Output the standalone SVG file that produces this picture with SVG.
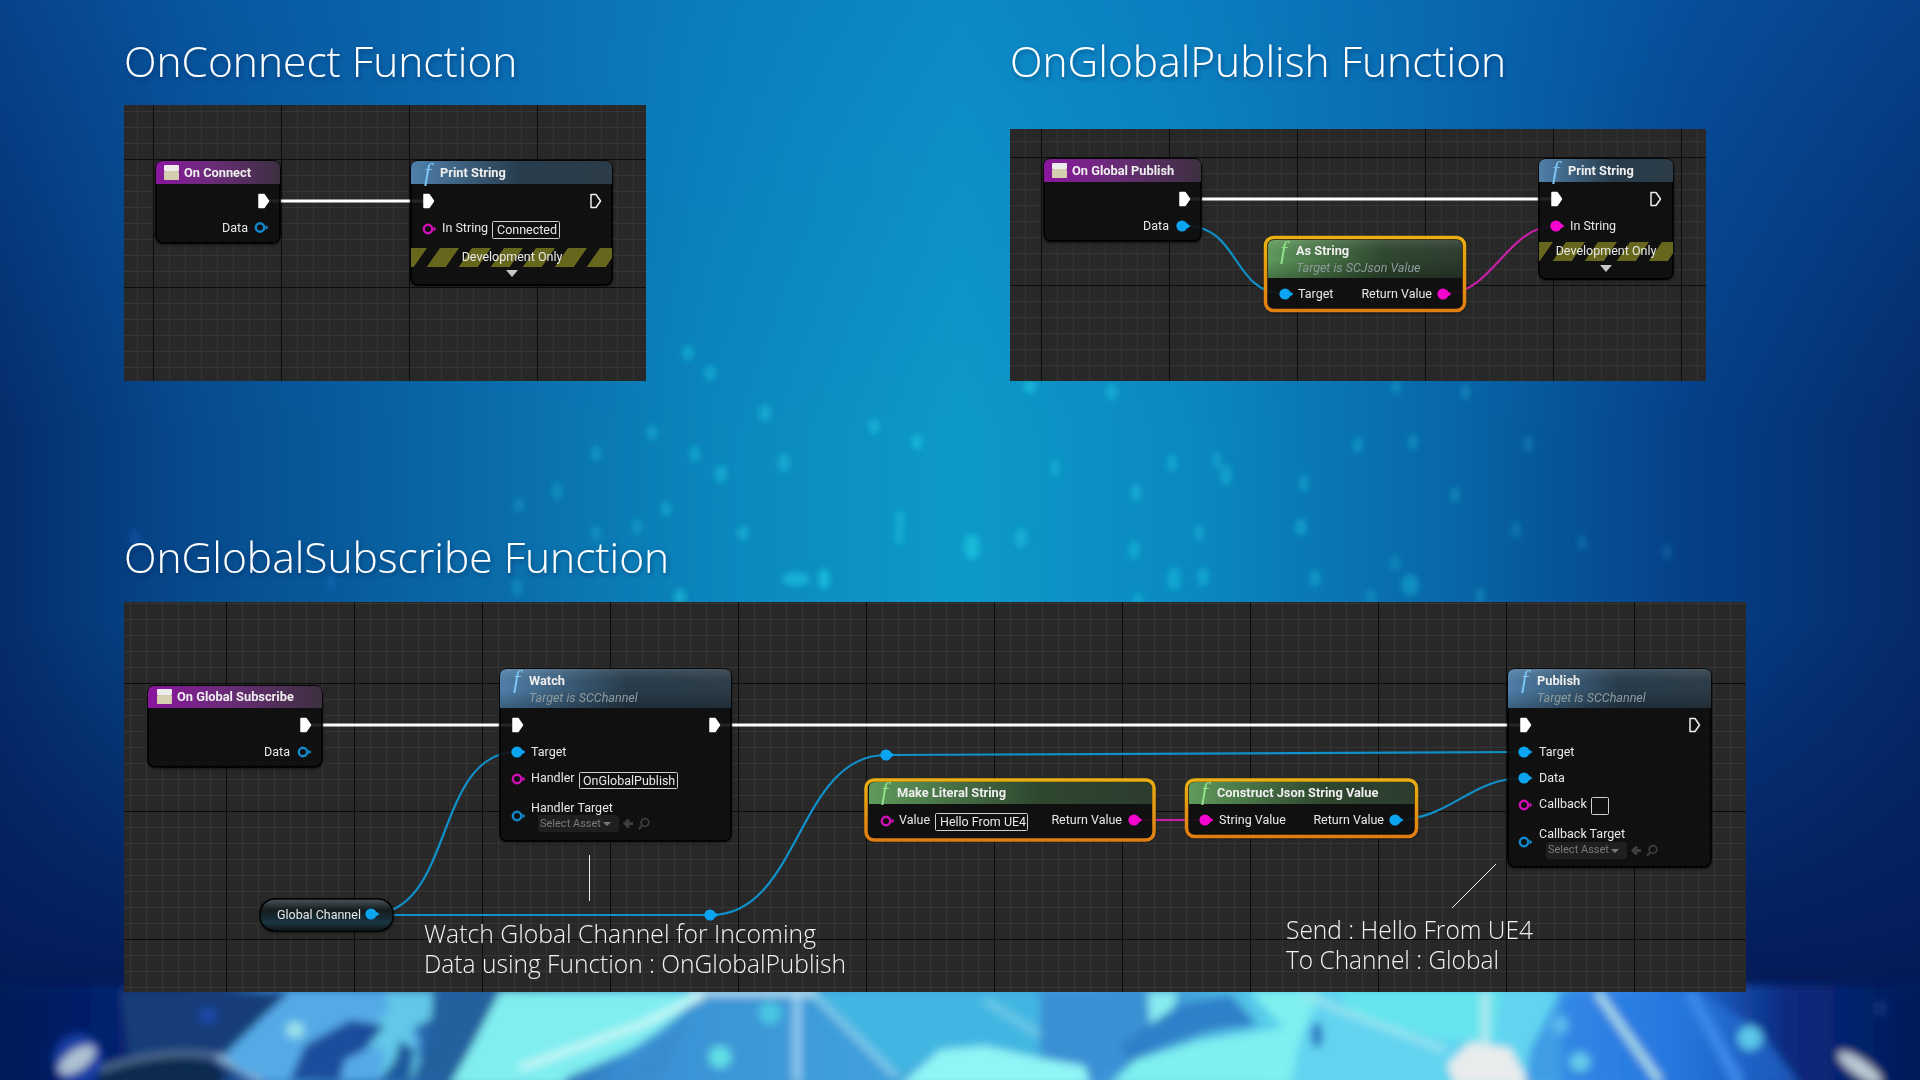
<svg xmlns="http://www.w3.org/2000/svg" width="1920" height="1080" viewBox="0 0 1920 1080">
<style>
.h{font-family:"Open Sans","Noto Sans",sans-serif;font-weight:300;font-size:42.5px;fill:#fff}
.a{font-family:"Open Sans","Noto Sans",sans-serif;font-weight:300;font-size:26.5px;fill:#f2f2f2}
.n{font-family:Roboto,"Liberation Sans",sans-serif;font-size:12.5px;fill:#e8e8e8}
.t{font-family:Roboto,"Liberation Sans",sans-serif;font-size:12.8px;font-weight:700;fill:#eeeeee}
.s{font-family:Roboto,"Liberation Sans",sans-serif;font-size:12.5px;font-style:italic;fill:#8d9c9c}
.g{font-family:Roboto,"Liberation Sans",sans-serif;font-size:11px;fill:#7a7a7a}
.e{text-anchor:end}
.c{text-anchor:middle}
.f{font-family:"Liberation Serif",serif;font-style:italic;font-size:25px}
.fb{fill:#7cc4f4}
.fg{fill:#90e088}
.body{fill:#0b0d0c;fill-opacity:.82;stroke:#050505;stroke-width:1.5;filter:url(#ds)}
.sel{fill:none;stroke-width:3.5;stroke:url(#orange)}
.box{fill:none;stroke:#d0d0d0;stroke-width:1}
.bl{color:#0aa4f0}
.blh{color:#1488cc}
.mg{color:#f505d0}
.mgh{color:#d010b8}
.wb{fill:none;stroke:#1090c8;stroke-width:2.2}
.wm{fill:none;stroke:#c81ea8;stroke-width:2.2}
.wx{fill:none;stroke:#fff;stroke-width:3}
.ln{stroke:#e8e8e8;stroke-width:1;fill:none}
.dot{fill:#1cc4de}
</style>
<defs>
<linearGradient id="bg" x1="0" x2="1" y1="0" y2="0">
<stop offset="0" stop-color="#052c6c"/><stop offset=".1" stop-color="#064a8c"/><stop offset=".25" stop-color="#0a6aa8"/><stop offset=".37" stop-color="#0b86bc"/><stop offset=".5" stop-color="#0d9ac8"/><stop offset=".62" stop-color="#0b88c0"/><stop offset=".75" stop-color="#0868a8"/><stop offset=".88" stop-color="#053f86"/><stop offset="1" stop-color="#052a6a"/>
</linearGradient>
<linearGradient id="bgv" x1="0" x2="0" y1="0" y2="1">
<stop offset="0" stop-color="#0a6ac0" stop-opacity=".35"/><stop offset=".4" stop-color="#0a6ac0" stop-opacity="0"/>
</linearGradient>
<linearGradient id="bgb" x1="0" x2="0" y1="0" y2="1">
<stop offset="0" stop-color="#041a58" stop-opacity="0"/><stop offset="1" stop-color="#041a58"/>
</linearGradient>
<linearGradient id="strip" x1="0" x2="1920" y1="0" y2="0" gradientUnits="userSpaceOnUse">
<stop offset="0" stop-color="#041a58"/><stop offset=".06" stop-color="#06216e"/><stop offset=".115" stop-color="#163a7a"/><stop offset=".14" stop-color="#3a86d0"/><stop offset=".2" stop-color="#2a70b8"/><stop offset=".25" stop-color="#1f5a9c"/><stop offset=".33" stop-color="#3a90d4"/><stop offset=".52" stop-color="#42a8de"/><stop offset=".6" stop-color="#3a90d4"/><stop offset=".67" stop-color="#5cd8ee"/><stop offset=".8" stop-color="#5cd8f0"/><stop offset=".82" stop-color="#4098ea"/><stop offset=".87" stop-color="#2878e0"/><stop offset=".93" stop-color="#082a80"/><stop offset="1" stop-color="#041a58"/>
</linearGradient>
<filter id="b3" x="-10%" y="-10%" width="120%" height="120%"><feGaussianBlur stdDeviation="4"/></filter>
<filter id="b4" x="-60%" y="-60%" width="220%" height="220%"><feGaussianBlur stdDeviation="3.4"/></filter>
<filter id="ds" x="-10%" y="-10%" width="120%" height="125%"><feDropShadow dx="0" dy="1" stdDeviation="1.5" flood-color="#000" flood-opacity=".6"/></filter>
<filter id="ts" x="-5%" y="-20%" width="110%" height="150%"><feDropShadow dx="1" dy="2" stdDeviation="2" flood-color="#002050" flood-opacity=".5"/></filter>
<pattern id="grid" width="128" height="128" patternUnits="userSpaceOnUse">
<rect width="128" height="128" fill="#282828"/>
<path d="M16.5 0V128M32.5 0V128M48.5 0V128M64.5 0V128M80.5 0V128M96.5 0V128M112.5 0V128M0 16.5H128M0 32.5H128M0 48.5H128M0 64.5H128M0 80.5H128M0 96.5H128M0 112.5H128" stroke="#353535" stroke-width="1"/>
<path d="M.5 0V128M0 .5H128" stroke="#0c0c0c" stroke-width="1"/>
</pattern>
<pattern id="haz" width="32" height="19" patternUnits="userSpaceOnUse" patternTransform="skewX(-35)">
<rect width="19" height="19" fill="#66661c"/>
</pattern>
<linearGradient id="orange" x1="0" x2="0" y1="0" y2="1"><stop offset="0" stop-color="#eab012"/><stop offset="1" stop-color="#e07c10"/></linearGradient>
<linearGradient id="hp" x1="0" x2="1" y1="0" y2="0"><stop offset="0" stop-color="#8a169e"/><stop offset=".45" stop-color="#6a2c78"/><stop offset="1" stop-color="#3c3040"/></linearGradient>
<linearGradient id="hb" x1="0" x2="1" y1="0" y2="0"><stop offset="0" stop-color="#4f80aa"/><stop offset=".55" stop-color="#283c4c"/><stop offset="1" stop-color="#2c3c48"/></linearGradient>
<linearGradient id="hg" x1="0" x2="1" y1="0" y2="0"><stop offset="0" stop-color="#5f9a5c"/><stop offset=".6" stop-color="#2e462e"/><stop offset="1" stop-color="#2c3c2e"/></linearGradient>
<linearGradient id="hv" x1="0" x2="0" y1="0" y2="1"><stop offset="0" stop-color="#fff" stop-opacity=".12"/><stop offset=".5" stop-color="#000" stop-opacity="0"/><stop offset="1" stop-color="#000" stop-opacity=".25"/></linearGradient>
<linearGradient id="pill" x1="0" x2="0" y1="0" y2="1"><stop offset="0" stop-color="#48555a"/><stop offset=".35" stop-color="#161c1e"/><stop offset=".75" stop-color="#1a3440"/><stop offset="1" stop-color="#0e1416"/></linearGradient>
<g id="pf"><circle r="5.6" fill="currentColor"/><path d="M5 -2.6L8.5 0L5 2.6Z" fill="currentColor"/></g>
<g id="ph"><circle r="4.2" fill="none" stroke="currentColor" stroke-width="2.4"/><path d="M5.5 -2.4L8.5 0L5.5 2.4Z" fill="currentColor"/></g>
<path id="xf" d="M1 -6.500H6L10.500 0L6 6.500H1Z" fill="#fff" stroke="#fff" stroke-width="1.500" stroke-linejoin="round"/>
<path id="xo" d="M1 -6.500H6L10.500 0L6 6.500H1Z" fill="none" stroke="#eee" stroke-width="1.500" stroke-linejoin="round"/>
<g id="ev"><rect width="15" height="6" rx="1" fill="#ececec"/><rect y="6" width="15" height="9" rx="1" fill="#d6ceb0"/></g>
<g id="sel"><rect width="81" height="17" rx="3" fill="#1f1f1f"/><path d="M65 7L73 7L69 11Z" fill="#777"/><path d="M95 8.500L88 8.500M91 4.500L87 8.500L91 12.500" stroke="#3e3e3e" stroke-width="3" fill="none"/><circle cx="107" cy="7.500" r="3.800" fill="none" stroke="#3e3e3e" stroke-width="1.800"/><path d="M104 10.500L101 14" stroke="#3e3e3e" stroke-width="2"/></g>
</defs>

<g id="background">
<rect width="1920" height="1080" fill="url(#bg)"/>
<rect width="1920" height="1080" fill="url(#bgv)"/>
<rect y="620" width="1920" height="370" fill="url(#bgb)"/>
<g filter="url(#b4)" class="dot">
<ellipse cx="688" cy="353" rx="6" ry="8" opacity=".5"/><ellipse cx="710" cy="373" rx="6" ry="8" opacity=".5"/><ellipse cx="765" cy="413" rx="6" ry="9" opacity=".55"/><ellipse cx="652" cy="433" rx="5" ry="8" opacity=".45"/><ellipse cx="596" cy="453" rx="5" ry="8" opacity=".4"/><ellipse cx="695" cy="454" rx="5" ry="8" opacity=".5"/><ellipse cx="721" cy="474" rx="6" ry="9" opacity=".55"/><ellipse cx="784" cy="463" rx="6" ry="9" opacity=".55"/><ellipse cx="874" cy="426" rx="5" ry="8" opacity=".6"/><ellipse cx="917" cy="442" rx="5" ry="8" opacity=".7"/><ellipse cx="557" cy="491" rx="5" ry="9" opacity=".35"/><ellipse cx="519" cy="505" rx="5" ry="7" opacity=".3"/><ellipse cx="666" cy="509" rx="5" ry="8" opacity=".45"/><ellipse cx="637" cy="527" rx="5" ry="8" opacity=".35"/><ellipse cx="596" cy="533" rx="5" ry="8" opacity=".3"/><ellipse cx="743" cy="533" rx="5" ry="8" opacity=".55"/><ellipse cx="900" cy="520" rx="5" ry="11" opacity=".5"/><ellipse cx="899" cy="537" rx="5" ry="8" opacity=".5"/><ellipse cx="796" cy="579" rx="14" ry="7" opacity=".65"/><ellipse cx="824" cy="579" rx="6" ry="11" opacity=".75"/><ellipse cx="517" cy="587" rx="5" ry="9" opacity=".3"/><ellipse cx="680" cy="597" rx="6" ry="8" opacity=".6"/><ellipse cx="331" cy="582" rx="5" ry="8" opacity=".3" style="fill:#1870d0"/><ellipse cx="135" cy="538" rx="6" ry="9" opacity=".35" style="fill:#1060c8"/>
<ellipse cx="1030" cy="387" rx="6" ry="7" opacity=".7"/><ellipse cx="1112" cy="392" rx="6" ry="8" opacity=".55"/><ellipse cx="1396" cy="387" rx="5" ry="7" opacity=".35"/><ellipse cx="1465" cy="392" rx="5" ry="8" opacity=".3"/><ellipse cx="1358" cy="445" rx="5" ry="8" opacity=".4"/><ellipse cx="1413" cy="442" rx="5" ry="8" opacity=".35"/><ellipse cx="1528" cy="444" rx="5" ry="8" opacity=".25"/><ellipse cx="1055" cy="468" rx="5" ry="9" opacity=".5"/><ellipse cx="1172" cy="463" rx="5" ry="9" opacity=".5"/><ellipse cx="1217" cy="460" rx="4" ry="9" opacity=".45"/><ellipse cx="1226" cy="475" rx="6" ry="11" opacity=".45"/><ellipse cx="1136" cy="493" rx="5" ry="9" opacity=".55"/><ellipse cx="1304" cy="483" rx="5" ry="9" opacity=".4"/><ellipse cx="1455" cy="495" rx="5" ry="8" opacity=".3"/><ellipse cx="972" cy="547" rx="8" ry="13" opacity=".75"/><ellipse cx="1021" cy="538" rx="6" ry="10" opacity=".55"/><ellipse cx="1199" cy="533" rx="5" ry="9" opacity=".45"/><ellipse cx="1134" cy="550" rx="6" ry="10" opacity=".5"/><ellipse cx="1301" cy="527" rx="6" ry="9" opacity=".45"/><ellipse cx="1516" cy="530" rx="5" ry="9" opacity=".25"/><ellipse cx="1582" cy="543" rx="5" ry="8" opacity=".22"/><ellipse cx="1667" cy="552" rx="5" ry="8" opacity=".18"/><ellipse cx="1395" cy="563" rx="5" ry="8" opacity=".3"/><ellipse cx="1174" cy="579" rx="7" ry="12" opacity=".5"/><ellipse cx="1203" cy="577" rx="6" ry="10" opacity=".5"/><ellipse cx="1315" cy="578" rx="5" ry="9" opacity=".45"/><ellipse cx="1410" cy="585" rx="9" ry="11" opacity=".4"/><ellipse cx="1480" cy="596" rx="5" ry="8" opacity=".3"/><ellipse cx="1371" cy="597" rx="5" ry="8" opacity=".3"/><ellipse cx="1138" cy="600" rx="5" ry="7" opacity=".5"/>
</g>
<g id="globe" filter="url(#b3)">
<rect x="-10" y="985" width="1940" height="105" fill="url(#strip)"/>
<path d="M120 992H290L225 1050L130 1060Z" fill="#173c78"/>
<ellipse cx="160" cy="1075" rx="65" ry="20" fill="#11294f"/>
<path d="M100 1070Q160 1048 217 1056" fill="none" stroke="#55769a" stroke-width="5"/>
<path d="M217 1056L262 1080" stroke="#8ab0d0" stroke-width="7"/>
<ellipse cx="78" cy="1060" rx="24" ry="26" fill="#1c48c0" opacity=".7"/>
<ellipse cx="77" cy="1060" rx="21" ry="10" fill="#c0d0d6" opacity=".9" transform="rotate(-35 77 1060)"/>
<ellipse cx="208" cy="1015" rx="9" ry="8" fill="#1c48b8" opacity=".8"/>
<path d="M290 992H450L433 1010L410 1020L420 1040L412 1080H300L270 1080L240 1070L225 1055Z" fill="#55aae6"/>
<path d="M385 992H432L438 1015L410 1030L420 1060L412 1080H380L385 1050L350 1040L390 1010Z" fill="#62c8e8"/>
<path d="M305 1045L350 1020L385 1025L365 1050L345 1060L340 1080H290Z" fill="#1f4e9c"/>
<path d="M395 1060L400 1040L415 1050L410 1080H380Z" fill="#1f5a9c"/>
<ellipse cx="295" cy="1030" rx="9" ry="8" fill="#9ce4ec"/>
<path d="M433 992L500 992L470 1050L470 1080L412 1080L430 1040Z" fill="#20609e"/>
<path d="M470 1050L500 992H520L707 992L660 1030L630 1050L565 1078L565 1085H450Z" fill="#80eef0"/>
<path d="M703 995L640 1025L520 1068" stroke="#c4f6f6" stroke-width="8" fill="none"/>
<path d="M797 990V1082" stroke="#8ec8ec" stroke-width="9"/>
<path d="M810 990L897 1076" stroke="#84c8ea" stroke-width="8"/>
<path d="M690 993H815" stroke="#cdeff2" stroke-width="5"/>
<path d="M660 1040L690 1020L660 1080H620Z" fill="#3a88c8" opacity=".6"/>
<circle cx="720" cy="1057" r="11" fill="#62e0e8"/><circle cx="770" cy="1013" r="11" fill="#48c8e4"/>
<path d="M815 992H1030L1150 1040L1040 1060L940 1050L900 1076Z" fill="#42b6e2"/>
<path d="M900 1085L940 1050L985 1046L1040 1058V1085Z" fill="#90f5f5"/>
<path d="M985 1000L1040 1035" stroke="#6ccae8" stroke-width="7"/>
<path d="M1040 992H1148V1035L1130 1060L1090 1085L1040 1085Z" fill="#3a90d4"/>
<path d="M1040 1058L1085 1066L1090 1085H1040Z" fill="#90f5f5"/>
<path d="M1148 992H1178L1172 1012L1180 1028L1150 1025Z" fill="#88ecf0"/>
<path d="M1178 1005L1230 995L1258 1025L1210 1030L1160 1045L1130 1065L1120 1045Z" fill="#2e80c8"/>
<path d="M1110 1085L1135 1060L1200 1040L1285 1028L1250 992H1330L1320 1085Z" fill="#7ef0f0"/>
<path d="M1290 1085L1300 1040L1320 992H1560V1085Z" fill="#62d4f0"/>
<path d="M1340 992H1500L1495 1040L1440 1040L1350 1015Z" fill="#66e4ee"/>
<ellipse cx="1317" cy="1035" rx="6" ry="13" fill="#2e78c4"/>
<path d="M1300 992L1340 1010L1445 1050" stroke="#9ce4f0" stroke-width="6" fill="none"/>
<path d="M1485 992V1045" stroke="#b4e8ee" stroke-width="8"/>
<path d="M1447 1065L1470 1042L1510 1048L1530 1085H1455Z" fill="#e8ecec"/>
<path d="M1560 992H1700L1760 1030L1800 1085H1525L1530 1050Z" fill="#2878e0" opacity=".6"/>
<path d="M1597 992L1660 1082" stroke="#a8dae8" stroke-width="8"/>
<path d="M1690 992L1740 1085" stroke="#3a88e8" stroke-width="12"/>
<ellipse cx="1560" cy="1025" rx="9" ry="9" fill="#5cb8ec"/>
<circle cx="1580" cy="1062" r="10" fill="#64cce8"/>
<circle cx="1750" cy="1038" r="12" fill="#5cc8e8"/>
<ellipse cx="1860" cy="1068" rx="26" ry="8" fill="#d0dce0" opacity=".9" transform="rotate(35 1860 1068)"/>
<circle cx="1880" cy="1008" r="7" fill="#10307c"/>
</g>
</g>

<g filter="url(#ts)">
<text class="h" x="124" y="77">OnConnect Function</text>
<text class="h" x="1010" y="77">OnGlobalPublish Function</text>
<text class="h" x="124" y="573">OnGlobalSubscribe Function</text>
</g>

<g id="panels">
<g transform="translate(153,159)"><rect x="-29" y="-54" width="522" height="276" fill="url(#grid)"/></g>
<g transform="translate(1041,157)"><rect x="-31" y="-28" width="696" height="252" fill="url(#grid)"/></g>
<g transform="translate(226,683)"><rect x="-102" y="-81" width="1622" height="390" fill="url(#grid)"/></g>
</g>

<g id="connectors">
<path class="wx" d="M265 201H425"/>
<path class="wx" d="M1186 199H1553"/>
<path class="wb" d="M1186 226C1240 226 1232 294 1285 294"/>
<path class="wm" d="M1443 294C1495 294 1505 226 1556 226"/>
<path class="wx" d="M307 725H514"/>
<path class="wx" d="M716 725H1522"/>
<path class="wb" d="M371 914C455 914 433 752 517 752"/>
<path class="wb" d="M371 915H711"/>
<path class="wb" d="M711 915C800 915 797 755 886 755"/>
<path class="wb" d="M886 755L1524 752"/>
<path class="wm" d="M1134 820H1205"/>
<path class="wb" d="M1395 820C1450 820 1470 778 1524 778"/>
</g>

<g id="on-connect">
<rect class="body" x="156" y="161" width="124" height="82" rx="7"/>
<path d="M156 184V168Q156 161 163 161H273Q280 161 280 168V184Z" fill="url(#hp)"/>
<use href="#ev" x="164" y="165"/>
<text class="t" x="184" y="177">On Connect</text>
<use href="#xf" x="258" y="201"/>
<text class="n e" x="248" y="232">Data</text>
<use href="#ph" class="blh" x="260" y="227.500"/>
</g>

<g id="print-string-1">
<rect class="body" x="411" y="161" width="201" height="124" rx="7"/>
<path d="M411 184V168Q411 161 418 161H605Q612 161 612 168V184Z" fill="url(#hb)"/>
<text class="f fb" x="424" y="181">f</text>
<text class="t" x="440" y="177">Print String</text>
<use href="#xf" x="423" y="201"/>
<use href="#xo" x="590" y="201"/>
<use href="#ph" class="mgh" x="428" y="229"/>
<text class="n" x="442" y="232">In String</text>
<rect class="box" x="492.500" y="221.500" width="67" height="17" rx="1"/>
<text class="n" x="497" y="234">Connected</text>
<g transform="translate(440,248)"><rect x="-29" width="201" height="19" fill="url(#haz)"/></g>
<text class="n c" x="512" y="261">Development Only</text>
<path d="M506 270H518L512 277Z" fill="#c8c8c8"/>
</g>

<g id="on-global-publish">
<rect class="body" x="1044" y="159" width="157" height="82" rx="7"/>
<path d="M1044 182V166Q1044 159 1051 159H1194Q1201 159 1201 166V182Z" fill="url(#hp)"/>
<use href="#ev" x="1052" y="163"/>
<text class="t" x="1072" y="175">On Global Publish</text>
<use href="#xf" x="1179" y="199"/>
<text class="n e" x="1169" y="230">Data</text>
<use href="#pf" class="bl" x="1182" y="226"/>
</g>

<g id="as-string">
<rect class="body" x="1265.500" y="237.500" width="199" height="73" rx="8"/>
<path d="M1268 278V246Q1268 240 1274 240H1456Q1462 240 1462 246V278Z" fill="url(#hg)"/>
<path d="M1268 278V246Q1268 240 1274 240H1456Q1462 240 1462 246V278Z" fill="url(#hv)"/>
<rect class="sel" x="1265.500" y="237.500" width="199" height="73" rx="8"/>
<text class="f fg" x="1280" y="259">f</text>
<text class="t" x="1296" y="255">As String</text>
<text class="s" x="1296" y="272">Target is SCJson Value</text>
<use href="#pf" class="bl" x="1285" y="294"/>
<text class="n" x="1298" y="298">Target</text>
<text class="n e" x="1432" y="298">Return Value</text>
<use href="#pf" class="mg" x="1443" y="294"/>
</g>

<g id="print-string-2">
<rect class="body" x="1539" y="159" width="134" height="120" rx="7"/>
<path d="M1539 182V166Q1539 159 1546 159H1666Q1673 159 1673 166V182Z" fill="url(#hb)"/>
<text class="f fb" x="1552" y="179">f</text>
<text class="t" x="1568" y="175">Print String</text>
<use href="#xf" x="1551" y="199"/>
<use href="#xo" x="1650" y="199"/>
<use href="#pf" class="mg" x="1556" y="226"/>
<text class="n" x="1570" y="230">In String</text>
<g transform="translate(1566,242)"><rect x="-27" width="134" height="19" fill="url(#haz)"/></g>
<text class="n c" x="1606" y="255">Development Only</text>
<path d="M1600 265H1612L1606 272Z" fill="#c8c8c8"/>
</g>

<g id="on-global-subscribe">
<rect class="body" x="148" y="686" width="174" height="81" rx="7"/>
<path d="M148 708V693Q148 686 155 686H315Q322 686 322 693V708Z" fill="url(#hp)"/>
<use href="#ev" x="157" y="689"/>
<text class="t" x="177" y="701">On Global Subscribe</text>
<use href="#xf" x="300" y="725"/>
<text class="n e" x="290" y="756">Data</text>
<use href="#ph" class="blh" x="303" y="752"/>
</g>

<g id="watch">
<rect class="body" x="500" y="669" width="231" height="172" rx="7"/>
<path d="M500 708V676Q500 669 507 669H724Q731 669 731 676V708Z" fill="url(#hb)"/>
<path d="M500 708V676Q500 669 507 669H724Q731 669 731 676V708Z" fill="url(#hv)"/>
<text class="f fb" x="513" y="688">f</text>
<text class="t" x="529" y="685">Watch</text>
<text class="s" x="529" y="702">Target is SCChannel</text>
<use href="#xf" x="512" y="725"/>
<use href="#xf" x="709" y="725"/>
<use href="#pf" class="bl" x="517" y="752"/>
<text class="n" x="531" y="756">Target</text>
<use href="#ph" class="mgh" x="517" y="779"/>
<text class="n" x="531" y="782">Handler</text>
<rect class="box" x="579.500" y="772.500" width="98" height="16" rx="1"/>
<text class="n" x="583" y="785">OnGlobalPublish</text>
<use href="#ph" class="blh" x="517" y="816"/>
<text class="n" x="531" y="812">Handler Target</text>
<use href="#sel" x="538" y="815"/>
<text class="g" x="540" y="827">Select Asset</text>
</g>

<g id="global-channel">
<rect x="260" y="899" width="133" height="32" rx="15" fill="url(#pill)" stroke="#060606" stroke-width="1.500" filter="url(#ds)"/>
<text class="n" x="277" y="919">Global Channel</text>
<use href="#pf" class="bl" x="371" y="914"/>
</g>

<g id="knots">
<use href="#pf" class="bl" x="710" y="915"/>
<use href="#pf" class="bl" x="886" y="755"/>
</g>

<g id="make-literal-string">
<rect class="body" x="866" y="780" width="288" height="60" rx="8"/>
<path d="M869 804V788Q869 782 875 782H1146Q1152 782 1152 788V804Z" fill="url(#hg)"/>
<rect class="sel" x="866" y="780" width="288" height="60" rx="8"/>
<text class="f fg" x="881" y="800">f</text>
<text class="t" x="897" y="797">Make Literal String</text>
<use href="#ph" class="mgh" x="886" y="821"/>
<text class="n" x="899" y="824">Value</text>
<rect class="box" x="935.500" y="813.500" width="92" height="17" rx="1"/>
<text class="n" x="940" y="826">Hello From UE4</text>
<text class="n e" x="1122" y="824">Return Value</text>
<use href="#pf" class="mg" x="1134" y="820"/>
</g>

<g id="construct-json-string-value">
<rect class="body" x="1186.500" y="780" width="230" height="56.500" rx="8"/>
<path d="M1189 804V788Q1189 782 1195 782H1408Q1414 782 1414 788V804Z" fill="url(#hg)"/>
<rect class="sel" x="1186.500" y="780" width="230" height="56.500" rx="8"/>
<text class="f fg" x="1201" y="800">f</text>
<text class="t" x="1217" y="797">Construct Json String Value</text>
<use href="#pf" class="mg" x="1205" y="820"/>
<text class="n" x="1219" y="824">String Value</text>
<text class="n e" x="1384" y="824">Return Value</text>
<use href="#pf" class="bl" x="1395" y="820"/>
</g>

<g id="publish">
<rect class="body" x="1508" y="669" width="203" height="198" rx="7"/>
<path d="M1508 708V676Q1508 669 1515 669H1704Q1711 669 1711 676V708Z" fill="url(#hb)"/>
<path d="M1508 708V676Q1508 669 1515 669H1704Q1711 669 1711 676V708Z" fill="url(#hv)"/>
<text class="f fb" x="1521" y="688">f</text>
<text class="t" x="1537" y="685">Publish</text>
<text class="s" x="1537" y="702">Target is SCChannel</text>
<use href="#xf" x="1520" y="725"/>
<use href="#xo" x="1689" y="725"/>
<use href="#pf" class="bl" x="1524" y="752"/>
<text class="n" x="1539" y="756">Target</text>
<use href="#pf" class="bl" x="1524" y="778"/>
<text class="n" x="1539" y="782">Data</text>
<use href="#ph" class="mgh" x="1524" y="805"/>
<text class="n" x="1539" y="808">Callback</text>
<rect class="box" x="1591.500" y="797.500" width="17" height="17" rx="1"/>
<use href="#ph" class="blh" x="1524" y="842"/>
<text class="n" x="1539" y="838">Callback Target</text>
<use href="#sel" x="1546" y="842"/>
<text class="g" x="1548" y="853">Select Asset</text>
</g>

<g id="annotations">
<path class="ln" d="M589.500 855V901"/>
<path class="ln" d="M1496 864L1452 908"/>
<text class="a" x="424" y="943" textLength="392" lengthAdjust="spacingAndGlyphs">Watch Global Channel for Incoming</text>
<text class="a" x="424" y="973" textLength="422" lengthAdjust="spacingAndGlyphs">Data using Function : OnGlobalPublish</text>
<text class="a" x="1286" y="939" textLength="247" lengthAdjust="spacingAndGlyphs">Send : Hello From UE4</text>
<text class="a" x="1286" y="969" textLength="213" lengthAdjust="spacingAndGlyphs">To Channel : Global</text>
</g>
</svg>
